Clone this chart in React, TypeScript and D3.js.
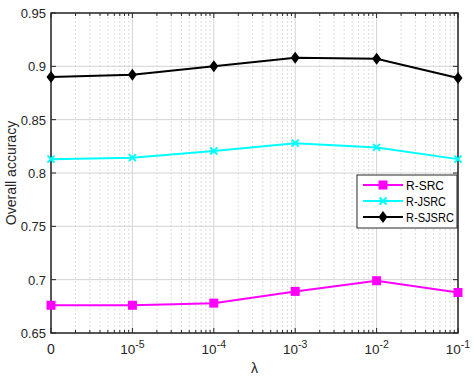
import React from "react";
import * as d3 from "d3";

const lambdas = [1e-6, 1e-5, 1e-4, 1e-3, 1e-2, 1e-1];
const tickLabels = ["0", "-5", "-4", "-3", "-2", "-1"];
const rSRC = [0.676, 0.676, 0.678, 0.689, 0.699, 0.688];
const rJSRC = [0.813, 0.8144, 0.8206, 0.828, 0.824, 0.813];
const rSJSRC = [0.89, 0.892, 0.9, 0.908, 0.907, 0.889];
const yTicks = [0.65, 0.7, 0.75, 0.8, 0.85, 0.9, 0.95];
const seriesNames = ["R-SRC", "R-JSRC", "R-SJSRC"];

const W = 474, H = 377;
const L = 51, R = 458, T = 13, B = 333;
const font = "Liberation Sans, Arial, sans-serif";

export default function App() {
  const x = d3.scaleLog().domain([1e-6, 1e-1]).range([L, R]);
  const y = d3.scaleLinear().domain([0.65, 0.95]).range([B, T]);
  const minors: number[] = [];
  for (let e = -6; e < -1; e++) for (let m = 2; m <= 9; m++) minors.push(m * Math.pow(10, e));
  const line = d3.line<number>().x((_, i) => x(lambdas[i])).y((v) => y(v));
  const colors = ["#ff00ff", "#00ffff", "#000000"];
  const data = [rSRC, rJSRC, rSJSRC];

  const marker = (k: number, cx: number, cy: number, key: string) => {
    if (k === 0) return <rect key={key} x={cx - 4.5} y={cy - 4.5} width={9} height={9} fill={colors[0]} />;
    if (k === 1)
      return (
        <path key={key} d={`M${cx - 3.5},${cy - 3.5}L${cx + 3.5},${cy + 3.5}M${cx - 3.5},${cy + 3.5}L${cx + 3.5},${cy - 3.5}`} stroke={colors[1]} strokeWidth={2} />
      );
    return <path key={key} d={`M${cx},${cy - 6}L${cx + 4.5},${cy}L${cx},${cy + 6}L${cx - 4.5},${cy}Z`} fill="#000" />;
  };

  const lx = 357, ly = 175, lw = 100, lh = 53;
  const textW = [38, 40, 48];
  return (
    <svg width={W} height={H} style={{ position: "absolute", left: 0, top: 0 }} fontFamily={font}>
      <rect width={W} height={H} fill="#fff" />
      {minors.map((m, i) => (
        <line key={"mg" + i} x1={x(m)} x2={x(m)} y1={T} y2={B} stroke="#c8c8c8" strokeWidth={0.8} strokeDasharray="1.5,2.5" />
      ))}
      {lambdas.map((v, i) => (
        <line key={"Mg" + i} x1={x(v)} x2={x(v)} y1={T} y2={B} stroke="#d4d4d4" strokeWidth={1} />
      ))}
      {yTicks.map((v, i) => (
        <line key={"yg" + i} x1={L} x2={R} y1={y(v)} y2={y(v)} stroke="#d4d4d4" strokeWidth={1} />
      ))}
      {minors.map((m, i) => (
        <g key={"mt" + i} stroke="#262626" strokeWidth={1}>
          <line x1={x(m)} x2={x(m)} y1={B} y2={B - 3} />
          <line x1={x(m)} x2={x(m)} y1={T} y2={T + 3} />
        </g>
      ))}
      {lambdas.map((v, i) => (
        <g key={"Mt" + i} stroke="#262626" strokeWidth={1}>
          <line x1={x(v)} x2={x(v)} y1={B} y2={B - 5} />
          <line x1={x(v)} x2={x(v)} y1={T} y2={T + 5} />
        </g>
      ))}
      {yTicks.map((v, i) => (
        <g key={"yt" + i} stroke="#262626" strokeWidth={1}>
          <line x1={L} x2={L + 5} y1={y(v)} y2={y(v)} />
          <line x1={R} x2={R - 5} y1={y(v)} y2={y(v)} />
        </g>
      ))}
      <rect x={L} y={T} width={R - L} height={B - T} fill="none" stroke="#262626" strokeWidth={1.5} />
      {yTicks.map((v, i) => (
        <text key={"yl" + i} x={L - 5} y={y(v) + 5} textAnchor="end" fontSize={13} fill="#262626">
          {String(v)}
        </text>
      ))}
      {lambdas.map((v, i) =>
        i === 0 ? (
          <text key={"xl" + i} x={x(v)} y={354} textAnchor="middle" fontSize={14} fill="#262626">0</text>
        ) : (
          <text key={"xl" + i} x={x(v)} y={354} textAnchor="middle" fontSize={13.5} fill="#262626">
            10<tspan dy={-6} fontSize={10.5}>{tickLabels[i]}</tspan>
          </text>
        )
      )}
      <text x={(L + R) / 2} y={373} textAnchor="middle" fontSize={14} fill="#262626">λ</text>
      <text transform={`translate(16,${(T + B) / 2}) rotate(-90)`} textAnchor="middle" fontSize={14} fill="#262626">Overall accuracy</text>
      {data.map((s, k) => (
        <g key={"s" + k}>
          <path d={line(s) || ""} fill="none" stroke={colors[k]} strokeWidth={2} />
          {s.map((v, i) => marker(k, x(lambdas[i]), y(v), `m${k}-${i}`))}
        </g>
      ))}
      <rect x={lx} y={ly} width={lw} height={lh} fill="#fff" stroke="#262626" strokeWidth={1} />
      {seriesNames.map((n, k) => {
        const yy = ly + 10 + k * 16;
        return (
          <g key={"lg" + k}>
            <line x1={lx + 6} x2={lx + 46} y1={yy} y2={yy} stroke={colors[k]} strokeWidth={2} />
            {marker(k, lx + 26, yy, "lm" + k)}
            <text x={lx + 49} y={yy + 5} fontSize={12.5} fill="#000" textLength={textW[k]} lengthAdjust="spacingAndGlyphs">{n}</text>
          </g>
        );
      })}
    </svg>
  );
}
